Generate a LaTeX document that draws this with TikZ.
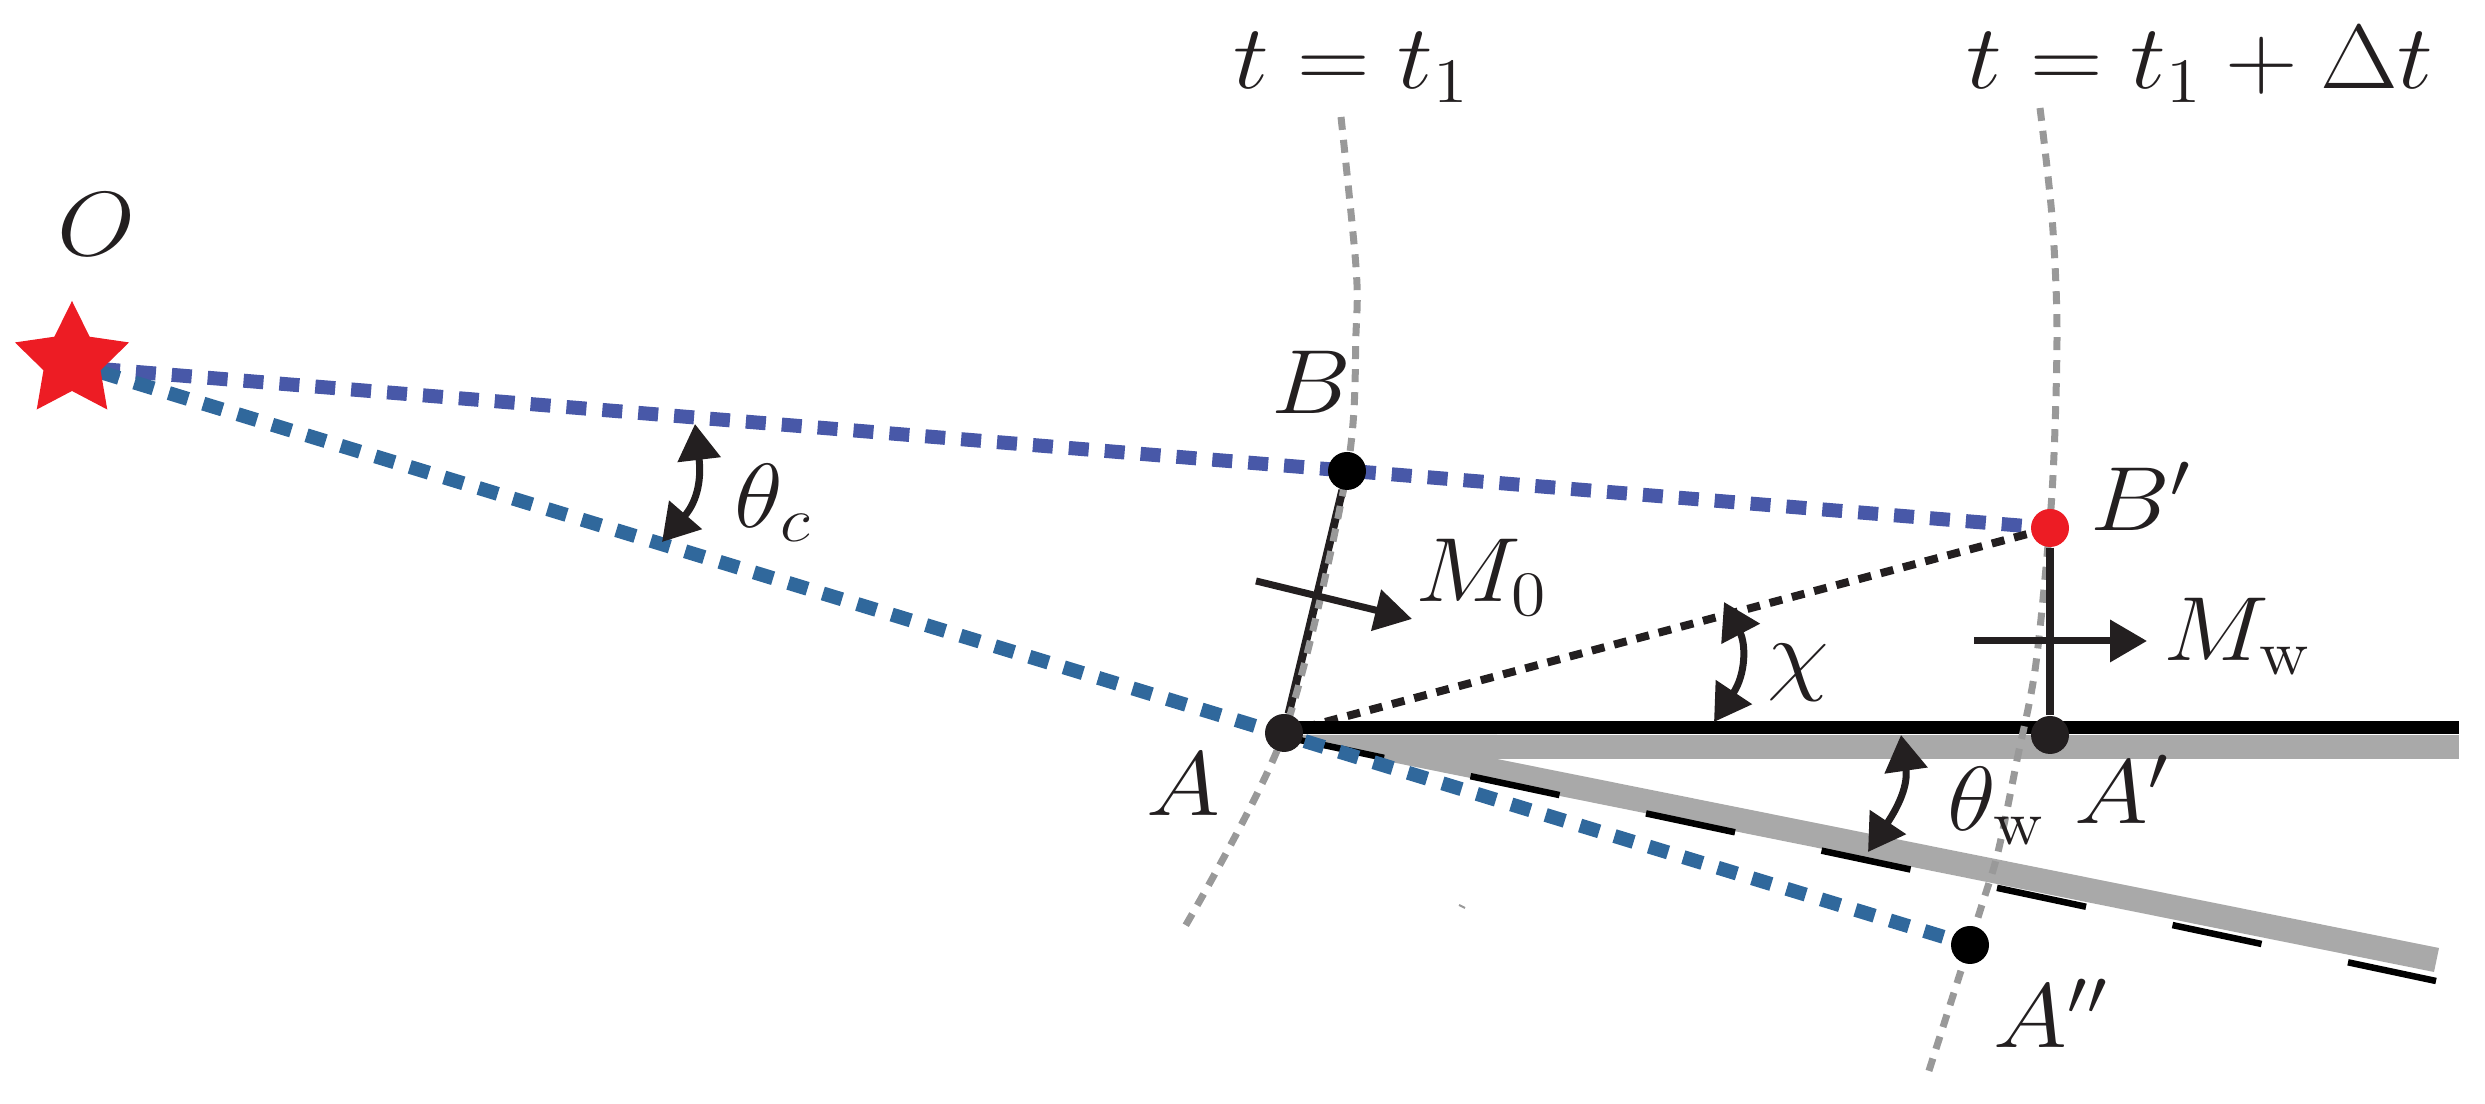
\documentclass[tikz,border=0pt]{standalone}
\usetikzlibrary{arrows.meta, shapes.geometric, backgrounds}
\definecolor{darkink}{HTML}{231F20}
\definecolor{upperblue}{HTML}{4858A8}
\definecolor{lowerblue}{HTML}{30689C}
\definecolor{wallgray}{HTML}{A9A9A9}
\definecolor{frontgray}{HTML}{999999}
\definecolor{starred}{HTML}{ED1C24}
\tikzset{
  dotnode/.style={circle, fill=#1, minimum size=0.38cm, inner sep=0pt},
  labelnode/.style={anchor=base west, inner sep=0pt, font=\huge, text=darkink, xscale=1.38, yscale=1.25, transform shape},
  rayline/.style={line width=0.14cm, dash pattern=on 0.2cm off 0.16cm},
  frontline/.style={frontgray, line width=0.07cm, dash pattern=on 0.13cm off 0.1cm},
  shockline/.style={darkink, line width=0.08cm},
  flowarrow/.style={darkink, line width=0.07cm, -{Triangle[length=0.37cm, width=0.41cm]}},
  anglearrow/.style={darkink, line width=0.07cm, {Triangle[length=0.36cm, width=0.42cm]}-{Triangle[length=0.36cm, width=0.42cm]}}
}
\begin{document}
\begin{tikzpicture}
\useasboundingbox (0,0) rectangle (24.85,11.04);

% points
\node[star, star points=5, star point ratio=2, fill=starred, minimum size=1.2cm, inner sep=0pt] (O) at (0.72,7.43) {};
\node[dotnode=darkink] (A) at (12.84,3.71) {};
\node[dotnode=black] (B) at (13.47,6.33) {};
\node[dotnode=starred] (Bp) at (20.50,5.76) {};
\node[dotnode=darkink] (Ap) at (20.50,3.69) {};
\node[dotnode=black] (App) at (19.70,1.59) {};
\coordinate (upperStart) at (1.00,7.35);
\coordinate (lowerStart) at (1.00,7.32);
\coordinate (wallStart) at (12.84,3.76);
\coordinate (wallEnd) at (24.59,3.76);
\coordinate (dashStart) at (12.95,3.65);
\coordinate (dashEnd) at (24.36,1.23);

% labels
\node[labelnode] (labelO) at (0.57,8.48) {$O$};
\node[labelnode] (labelA) at (11.46,2.88) {$A$};
\node[labelnode] (labelB) at (12.71,6.90) {$B$};
\node[labelnode] (labelBp) at (20.90,5.73) {$B'$};
\node[labelnode] (labelAp) at (20.74,2.80) {$A'$};
\node[labelnode] (labelApp) at (19.93,0.56) {$A''$};
\node[labelnode] (labelMz) at (14.15,5.02) {$M_0$};
\node[labelnode] (labelMw) at (21.63,4.43) {$M_{\mathrm{w}}$};
\node[labelnode] (labelThc) at (7.34,5.76) {$\theta_c$};
\node[labelnode] (labelChi) at (17.67,4.20) {$\chi$};
\node[labelnode] (labelThw) at (19.47,2.73) {$\theta_{\mathrm{w}}$};
\node[labelnode] (labelTa) at (12.33,10.15) {$t=t_1$};
\node[labelnode] (labelTb) at (19.66,10.15) {$t=t_1+\Delta t$};

\begin{scope}[on background layer]
\fill[wallgray] (13.80,3.69) rectangle (24.59,3.45);
\fill[wallgray] (12.96,3.69) -- (14.97,3.69) -- (14.97,3.45) -- (24.39,1.56) -- (24.34,1.32) -- (13.86,3.43) -- cycle;
\draw[black, line width=0.065cm, dash pattern=on 0.91cm off 0.884cm] (dashStart) -- (dashEnd);
\draw[upperblue, rayline] (upperStart) -- (Bp);
\draw[lowerblue, rayline] (lowerStart) -- (App);
\draw[shockline] (A) -- (B);
\draw[darkink, line width=0.08cm, dash pattern=on 0.13cm off 0.1cm] (A) -- (Bp);
\draw[black, line width=0.13cm] (wallStart) -- (wallEnd);
\draw[frontline] plot[smooth] coordinates {(13.41,9.87) (13.56,8.37) (13.56,7.71) (13.47,6.33) (12.84,3.71) (11.83,1.74)};
\draw[frontline] plot[smooth] coordinates {(20.40,9.96) (20.52,8.87) (20.57,7.71) (20.52,6.11) (20.36,4.41) (20.17,3.44) (19.98,2.52) (19.80,1.93) (19.26,0.24)};
\draw[shockline] (Bp) -- (Ap);
\draw[frontgray, line width=0.02cm] (14.59,1.99) -- (14.65,1.96);
\end{scope}

% arrows
\coordinate (MzTail) at (12.56,5.23);
\coordinate (MzTip) at (14.12,4.85);
\coordinate (MwTail) at (19.74,4.63);
\coordinate (MwTip) at (21.47,4.63);
\draw[flowarrow] (MzTail) -- (MzTip);
\draw[flowarrow] (MwTail) -- (MwTip);
\coordinate (ThcTop) at (6.95,6.80);
\coordinate (ThcBot) at (6.62,5.62);
\coordinate (ChiTop) at (17.24,5.02);
\coordinate (ChiBot) at (17.14,3.82);
\coordinate (ThwTop) at (19.01,3.69);
\coordinate (ThwBot) at (18.68,2.52);
\draw[anglearrow] (ThcTop) .. controls (7.02,6.2) and (6.95,6.0) .. (ThcBot);
\draw[anglearrow] (ChiTop) .. controls (17.46,4.6) and (17.46,4.3) .. (ChiBot);
\draw[anglearrow] (ThwTop) .. controls (19.08,3.2) and (19.0,3.0) .. (ThwBot);

\end{tikzpicture}
\end{document}
